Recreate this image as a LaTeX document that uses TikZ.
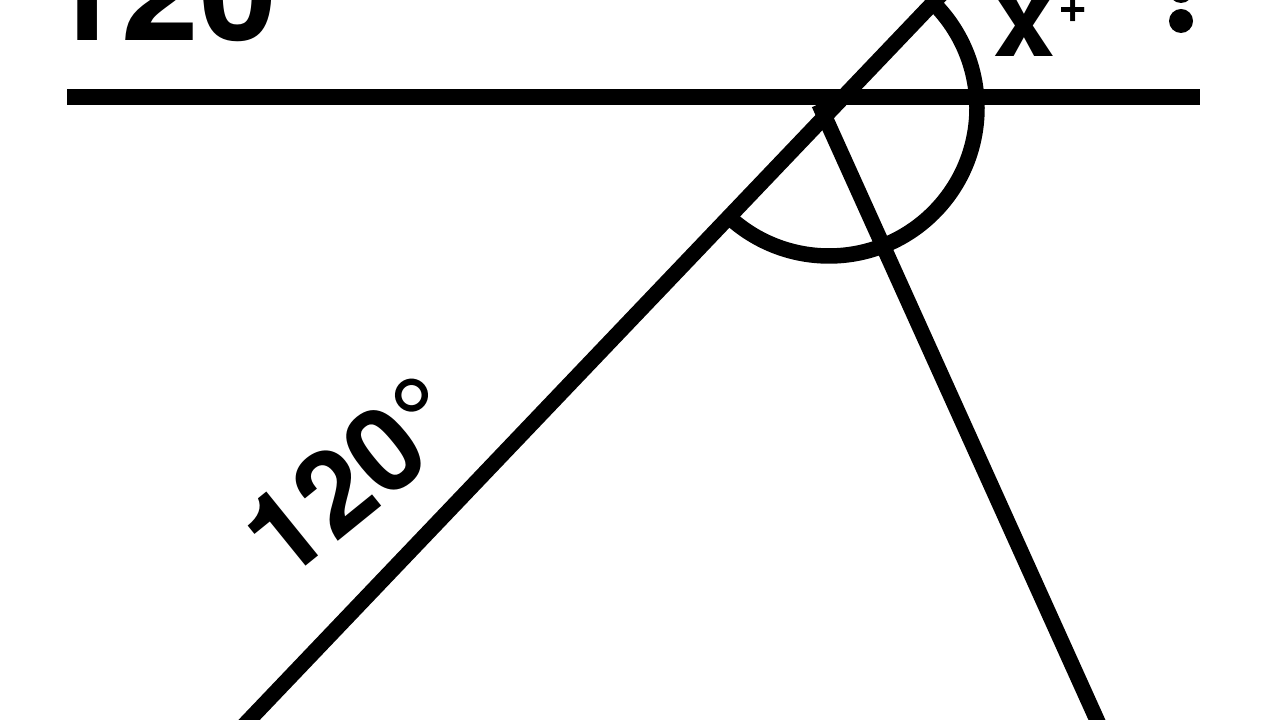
\documentclass[tikz,border=0pt]{standalone}
\usepackage{fontspec}
\setmainfont{TeX Gyre Heros}
\begin{document}
\begin{tikzpicture}[x=1pt,y=1pt,
  stroke/.style={line width=15.5pt, black},
  lbl/.style={inner sep=0pt, outer sep=0pt, text=black}]
\useasboundingbox (0,0) rectangle (1280,720);
\fill[white] (0,0) rectangle (1280,720);
\clip (0,0) rectangle (1280,720);
% lines
\coordinate (hL) at (67,623);
\coordinate (hR) at (1200,623);
\coordinate (dB) at (230,-20);
\coordinate (dT) at (955,740);
\coordinate (sT) at (819,616);
\coordinate (sB) at (1106,-20);
\coordinate (C) at (829,612);
\draw[stroke] (hL) -- (hR);
\draw[stroke] (dB) -- (dT);
\draw[stroke] (sT) -- (sB);
\draw[stroke] (C) ++(46.4:148) arc[start angle=46.4, end angle=-133.6, radius=148];
% texts
\node[lbl, anchor=base west, font=\fontsize{140}{140}\selectfont\bfseries] (t1) at (44,679) {120};
\node[lbl, anchor=base west, font=\fontsize{112}{112}\selectfont\bfseries] (t2) at (993,663) {x\hspace{3pt}\raisebox{34pt}{\fontsize{50}{50}\selectfont +}};
\node[lbl, rotate=39, font=\fontsize{116}{116}\selectfont\bfseries] (t3) at (352,244) {120°};
% dots
\fill (1181,699) circle[radius=12];
\fill (1181,729) circle[radius=12];
\end{tikzpicture}
\end{document}
